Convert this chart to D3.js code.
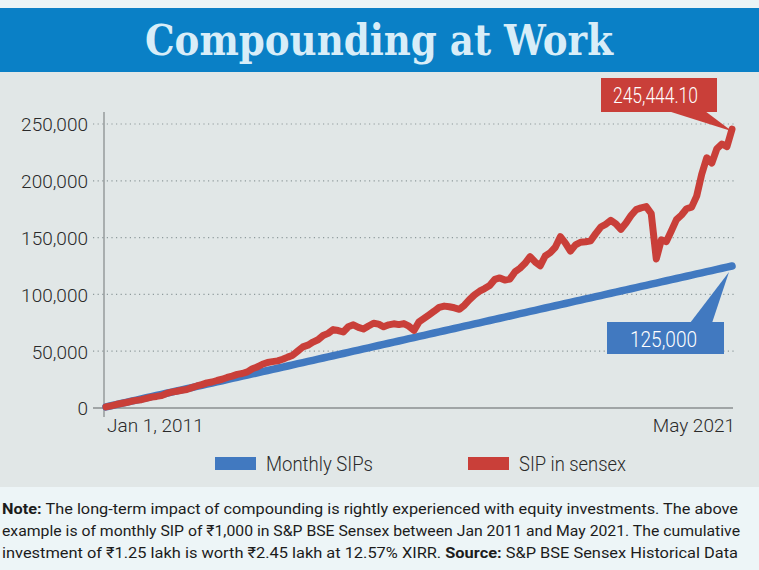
<!DOCTYPE html>
<html lang="en">
<head>
  <meta charset="UTF-8">
  <title>Compounding at Work</title>
  <script src="https://d3js.org/d3.v7.min.js"></script>
  <style>
    body { margin: 0; background: #e1e7e7; }
    svg { display: block; font-family: Roboto, "Noto Sans", "DejaVu Sans", sans-serif; }
  </style>
</head>
<body>
  <div id="chart"></div>

  <script>
    // Data: monthly SIP of Rs 1,000, Jan 2011 .. May 2021 (125 months)
    const months = d3.range(125);
    const invested = months.map(m => (m + 1) * 1000);
    const sensexValue = [
      1000, 1900, 3050, 4000, 4850, 5900, 6700, 7300, 8400, 9600,
      10200, 10900, 12800, 14000, 14700, 15600, 16300, 17900, 19400, 20600,
      22100, 22900, 24200, 25300, 26900, 28100, 29600, 30400, 31800, 34600,
      36200, 38500, 40100, 40800, 41500, 42900, 44800, 46500, 50200, 53800,
      55300, 58000, 60100, 63800, 65700, 69000, 68200, 66900, 71500, 73200,
      71000, 69500, 72200, 74600, 73800, 71500, 73200, 74100, 73400, 74300,
      72000, 68300, 75800, 78900, 82000, 85200, 88600, 89700, 89100, 88200,
      86900, 90500, 95400, 99600, 102800, 105100, 107800, 113200, 114500, 112600,
      113500, 119800, 123000, 127400, 133200, 128600, 125200, 133800, 136800, 141500,
      150800, 145200, 138100, 143600, 145900, 146300, 147200, 153500, 159300, 161800,
      165200, 162100, 157300, 162800, 169400, 174600, 176200, 177300, 171200, 131200,
      148000, 146500, 156000, 165800, 169900, 175400, 176800, 186500, 205800, 220300,
      215600, 228200, 232400, 230100, 245444.10
    ];
    const yTicks = [0, 50000, 100000, 150000, 200000, 250000];
    const xLabels = ["Jan 1, 2011", "May 2021"];
    const seriesNames = ["Monthly SIPs", "SIP in sensex"];
    const colors = ["#4179c0", "#c93f39"];
    const noteLines = [
      [["Note: ", true], ["The long-term impact of compounding is rightly experienced with equity investments. The above", false]],
      [["example is of monthly SIP of ₹1,000 in S&P BSE Sensex between Jan 2011 and May 2021. The cumulative", false]],
      [["investment of ₹1.25 lakh is worth ₹2.45 lakh at 12.57% XIRR.  ", false], ["Source: ", true], ["S&P BSE Sensex Historical Data", false]]
    ];

    const W = 759, H = 570;
    const svg = d3.select("#chart").append("svg")
      .attr("width", W).attr("height", H);

    // backgrounds
    svg.append("rect").attr("width", W).attr("height", H).attr("fill", "#e1e7e7");
    svg.append("rect").attr("width", W).attr("height", 8).attr("fill", "#eaf4f6");
    svg.append("rect").attr("y", 8).attr("width", W).attr("height", 64).attr("fill", "#0a80c6");
    svg.append("rect").attr("y", 487).attr("width", W).attr("height", H - 487).attr("fill", "#edf5f7");

    svg.append("text")
      .attr("x", 145).attr("y", 55)
      .attr("textLength", 468).attr("lengthAdjust", "spacingAndGlyphs")
      .style("font-family", "'DejaVu Serif', serif")
      .style("font-weight", "bold")
      .style("font-size", "43px")
      .attr("fill", "#d8edf8")
      .text("Compounding at Work");

    // Scales
    const x = d3.scaleLinear().domain([0, 124]).range([106, 732]);
    const y = d3.scaleLinear().domain([0, 250000]).range([408, 124]);

    // grid
    svg.append("g").selectAll("line")
      .data(yTicks.filter(d => d > 0))
      .join("line")
      .attr("x1", 93).attr("x2", 735)
      .attr("y1", d => y(d)).attr("y2", d => y(d))
      .attr("stroke", "#8e9a9c").attr("stroke-width", 1.2)
      .attr("stroke-dasharray", "1.2,3.4");

    // Y axis
    const yAxis = svg.append("g")
      .attr("transform", "translate(104,0)")
      .call(d3.axisLeft(y).tickValues(yTicks).tickSize(0).tickPadding(16).tickFormat(d3.format(",")));
    yAxis.select(".domain").remove();
    yAxis.selectAll("text")
      .style("font-family", "Roboto, sans-serif")
      .style("font-weight", 300)
      .style("font-size", "19px")
      .attr("fill", "#2a2a2a")
      .attr("dy", "0.36em");

    // axis lines
    svg.append("line").attr("x1", 104).attr("x2", 104).attr("y1", 112).attr("y2", 417)
      .attr("stroke", "#8a8f90").attr("stroke-width", 1.3);
    svg.append("line").attr("x1", 93).attr("x2", 733).attr("y1", y(0)).attr("y2", y(0))
      .attr("stroke", "#8a8f90").attr("stroke-width", 1.3);

    // x labels
    svg.append("text").attr("x", 107).attr("y", 432)
      .style("font-weight", 300).style("font-size", "19px").attr("fill", "#2a2a2a")
      .text(xLabels[0]);
    svg.append("text").attr("x", 735).attr("y", 432).attr("text-anchor", "end")
      .style("font-weight", 300).style("font-size", "19px").attr("fill", "#2a2a2a")
      .text(xLabels[1]);

    // lines
    const line = d3.line().x((d, i) => x(i)).y(d => y(d));
    svg.append("path").datum(invested)
      .attr("d", line).attr("fill", "none")
      .attr("stroke", colors[0]).attr("stroke-width", 7.5).attr("stroke-linecap", "round");
    svg.append("path").datum(sensexValue)
      .attr("d", line).attr("fill", "none")
      .attr("stroke", colors[1]).attr("stroke-width", 7)
      .attr("stroke-linejoin", "round").attr("stroke-linecap", "round");

    // callouts
    const lastR = [x(124), y(sensexValue[124])];
    const lastB = [x(124), y(invested[124])];

    svg.append("path")
      .attr("d", `M668,111 L705,111 L${lastR[0]},${lastR[1] + 2} Z`)
      .attr("fill", colors[1]);
    svg.append("rect").attr("x", 601).attr("y", 78).attr("width", 116).attr("height", 34)
      .attr("fill", colors[1]);
    svg.append("text").attr("x", 613).attr("y", 103)
      .attr("textLength", 85).attr("lengthAdjust", "spacingAndGlyphs")
      .style("font-weight", 300).style("font-size", "22px").attr("fill", "#fff")
      .text(d3.format(",.2f")(sensexValue[124]));

    svg.append("path")
      .attr("d", `M690,323 L712,323 L${lastB[0] - 3},${lastB[1] + 6} Z`)
      .attr("fill", colors[0]);
    svg.append("rect").attr("x", 607).attr("y", 322).attr("width", 117).attr("height", 32)
      .attr("fill", colors[0]);
    svg.append("text").attr("x", 630).attr("y", 347)
      .attr("textLength", 67).attr("lengthAdjust", "spacingAndGlyphs")
      .style("font-weight", 300).style("font-size", "22px").attr("fill", "#fff")
      .text(d3.format(",")(invested[124]));

    // legend
    const legendX = [215, 468];
    seriesNames.forEach((name, i) => {
      svg.append("rect").attr("x", legendX[i]).attr("y", 457).attr("width", 41).attr("height", 13)
        .attr("fill", colors[i]);
      svg.append("text").attr("x", legendX[i] + 51).attr("y", 471)
        .attr("textLength", 107).attr("lengthAdjust", "spacingAndGlyphs")
        .style("font-weight", 300).style("font-size", "20px").attr("fill", "#2a2a2a")
        .text(name);
    });

    // note
    const noteLen = [736, 738, 736];
    noteLines.forEach((parts, i) => {
      const t = svg.append("text")
        .attr("x", 2).attr("y", 514 + i * 22)
        .attr("textLength", noteLen[i]).attr("lengthAdjust", "spacingAndGlyphs")
        .style("font-size", "15.5px").attr("fill", "#1c1c1c");
      parts.forEach(([s, bold]) => {
        t.append("tspan").style("font-weight", bold ? 700 : 400).text(s);
      });
    });
  </script>
</body>
</html>
